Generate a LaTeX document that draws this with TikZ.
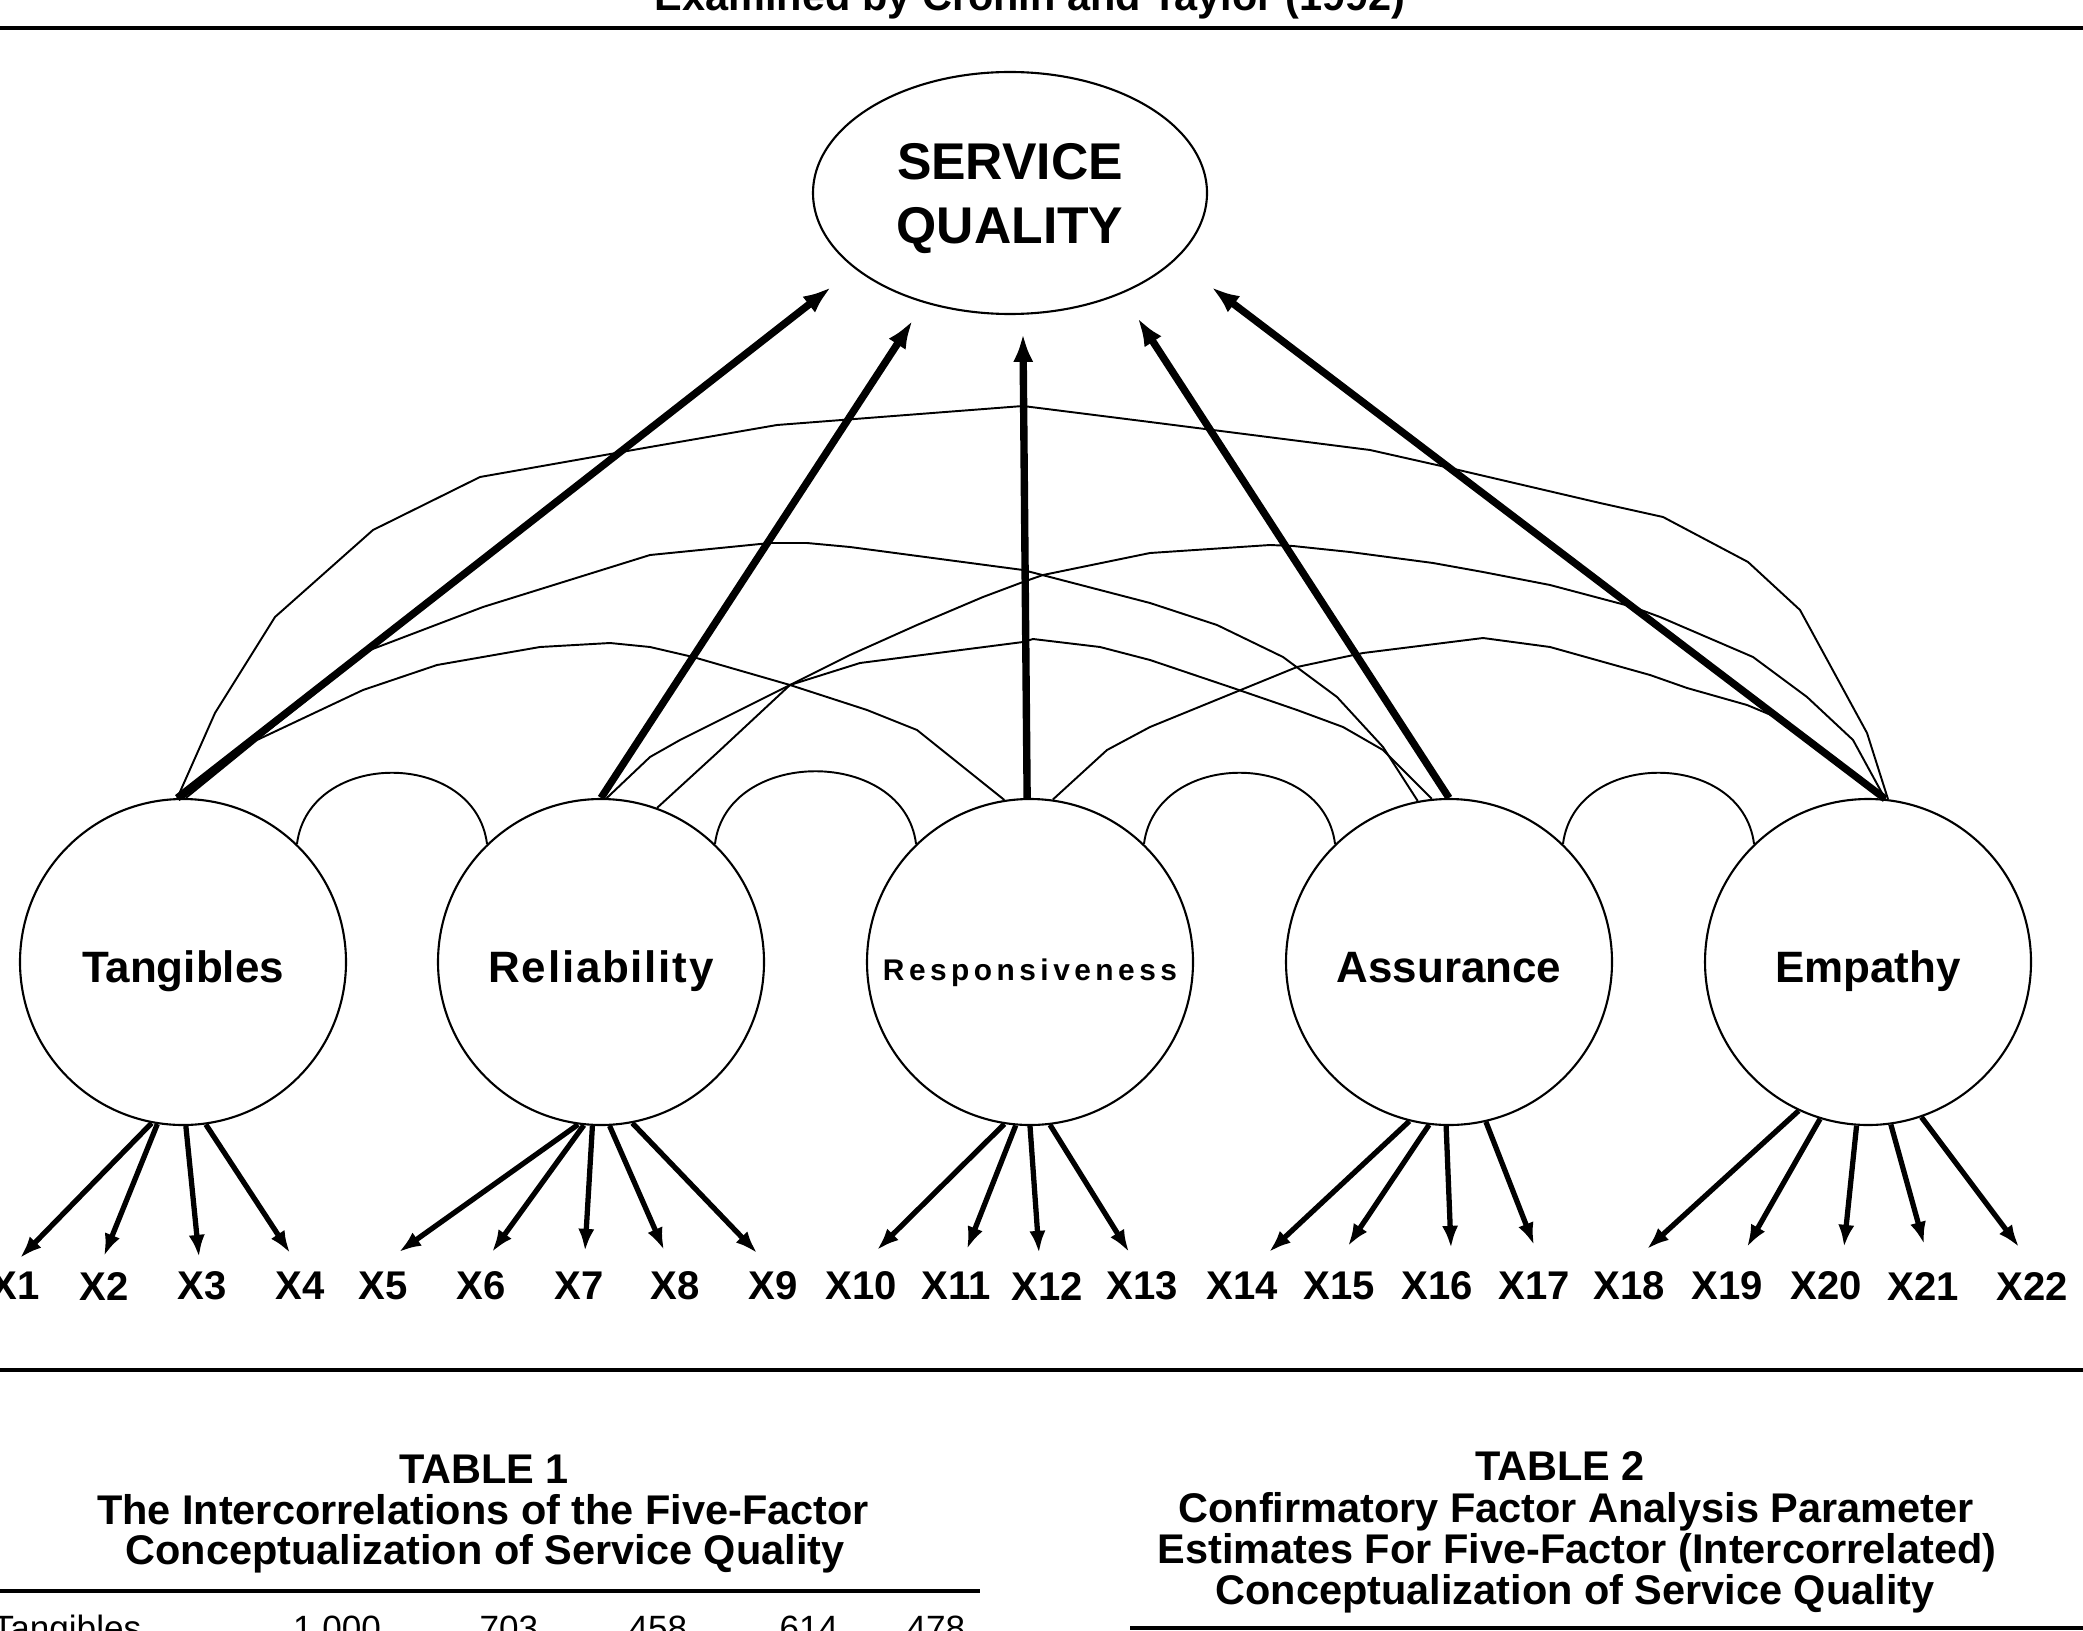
\documentclass[tikz,border=0pt]{standalone}
\usepackage{fontspec}
\setmainfont{Liberation Sans}
\usetikzlibrary{arrows.meta,shapes.geometric}
\begin{document}
\begin{tikzpicture}[x=0.1mm,y=-0.1mm,
  factor/.style={circle,draw,line width=0.6pt,minimum size=32.6mm,inner sep=0pt,text height=11.8pt,text depth=0pt,font=\bfseries\fontsize{12.5}{14}\selectfont},
  sq/.style={ellipse,draw,line width=0.6pt,minimum width=39.4mm,minimum height=24.2mm,inner sep=0pt,align=center,font=\bfseries\fontsize{14.7}{18.35}\selectfont},
  bigarrow/.style={line width=2.1pt,-{Latex[length=8pt,width=5.8pt]}},
  indarrow/.style={line width=1.5pt,-{Latex[length=6.3pt,width=4.6pt]}},
  cov/.style={line width=0.55pt,line join=round},
  xlab/.style={font=\bfseries\fontsize{11.4}{13}\selectfont,inner sep=0pt},
  ttl/.style={font=\bfseries\fontsize{11.8}{14}\selectfont,inner sep=0pt,anchor=base},
  row/.style={font=\fontsize{10}{12}\selectfont,inner sep=0pt,anchor=base},
  hrule/.style={line width=1.15pt}
]
\useasboundingbox (0,0) rectangle (2083,1630);

% title (cut at top) and rules
\node[ttl] (title) at (1030,11) {Examined by Cronin and Taylor (1992)};
\coordinate (r1a) at (0,28); \coordinate (r1b) at (2083,28);
\draw[hrule] (r1a) -- (r1b);
\coordinate (r2a) at (0,1370); \coordinate (r2b) at (2083,1370);
\draw[hrule] (r2a) -- (r2b);
\coordinate (r3a) at (0,1591); \coordinate (r3b) at (980,1591);
\draw[hrule] (r3a) -- (r3b);
\coordinate (r4a) at (1130,1628); \coordinate (r4b) at (2083,1628);
\draw[hrule] (r4a) -- (r4b);

% main nodes
\node[sq] (SQ) at (1010,193) {\rule{0pt}{0pt}\\[-5pt]SERVICE\\QUALITY};
\node[factor] (T) at (183,962) {Tangibles};
\node[factor] (Rl) at (601,962) {\addfontfeatures{LetterSpace=4}Reliability};
\node[factor,text height=10.6pt,font=\bfseries\fontsize{8.5}{10}\selectfont\addfontfeatures{LetterSpace=15}] (Rp) at (1030,962) {Responsiveness};
\node[factor] (A) at (1449,962) {Assurance};
\node[factor] (E) at (1868,962) {Empathy};

% structural arrows
\draw[bigarrow,shorten >=3.0mm] (T.92) -- (SQ.206.1);
\draw[bigarrow,shorten >=2.1mm] (Rl.90) -- (SQ.232);
\draw[bigarrow,shorten >=1.9mm] (Rp.91) -- (SQ.276);
\draw[bigarrow,shorten >=2.9mm] (A.90) -- (SQ.318.1);
\draw[bigarrow,shorten >=4.5mm] (E.84) -- (SQ.338.7);

% adjacent covariances
\draw[cov] (T.46) .. controls +(12,-95) and +(-12,-95) .. (Rl.134);
\draw[cov] (Rl.46) .. controls +(12,-97) and +(-12,-97) .. (Rp.134);
\draw[cov] (Rp.46) .. controls +(12,-95) and +(-12,-95) .. (A.134);
\draw[cov] (A.46) .. controls +(12,-95) and +(-12,-95) .. (E.134);

% long covariances
\draw[cov] (T.92) -- (215,713) -- (275,617) -- (373,530) -- (480,477) -- (650,447) -- (777,425) -- (1023,406) -- (1150,422) -- (1370,450) -- (1450,468) -- (1600,503) -- (1663,517) -- (1748,562) -- (1800,610) -- (1867,733) -- (E.83);
\draw[cov] (T.90) -- (260,737) -- (370,650) -- (483,607) -- (650,555) -- (770,543) -- (807,543) -- (850,547) -- (1023,570) -- (1150,603) -- (1217,625) -- (1283,657) -- (1337,697) -- (1383,747) -- (A.101);
\draw[cov] (T.89) -- (257,740) -- (363,690) -- (437,665) -- (540,647) -- (610,643) -- (650,647) -- (693,657) -- (790,685) -- (867,710) -- (917,730) -- (Rp.99);
\draw[cov] (Rl.88) -- (650,757) -- (680,740) -- (790,685) -- (850,655) -- (917,625) -- (983,597) -- (1023,582) -- (1043,575) -- (1150,553) -- (1270,545) -- (1293,546) -- (1350,552) -- (1433,563) -- (1483,572) -- (1550,585) -- (1633,607) -- (1660,617) -- (1753,657) -- (1807,697) -- (1853,740) -- (E.84);
\draw[cov] (Rl.70) -- (717,753) -- (790,685) -- (860,663) -- (1023,642) -- (1033,639) -- (1100,647) -- (1150,660) -- (1233,688) -- (1297,710) -- (1343,727) -- (1383,750) -- (A.96);
\draw[cov] (Rp.82) -- (1107,750) -- (1150,727) -- (1297,667) -- (1363,653) -- (1483,638) -- (1550,647) -- (1650,675) -- (1687,688) -- (1747,705) -- (1783,720) -- (E.84);

% indicator labels
\foreach \n/\x in {1/15,2/104,3/202,4/300,5/383,6/481,7/579,8/675,9/773,10/861,11/956,12/1047,13/1142,14/1242,15/1339,16/1437,17/1534,18/1629,19/1727,20/1826,21/1923,22/2032}
  \node[xlab] (x\n) at (\x,1286) {X\n};

% indicator arrow tips
\coordinate (t1) at (20,1258);  \coordinate (t2) at (104,1256); \coordinate (t3) at (199,1257); \coordinate (t4) at (290,1253);
\coordinate (t5) at (399,1252); \coordinate (t6) at (492,1252); \coordinate (t7) at (585,1251); \coordinate (t8) at (664,1250); \coordinate (t9) at (757,1253);
\coordinate (t10) at (877,1250); \coordinate (t11) at (967,1249); \coordinate (t12) at (1039,1253); \coordinate (t13) at (1129,1252);
\coordinate (t14) at (1269,1252); \coordinate (t15) at (1348,1246); \coordinate (t16) at (1451,1248); \coordinate (t17) at (1534,1245);
\coordinate (t18) at (1647,1249); \coordinate (t19) at (1747,1247); \coordinate (t20) at (1844,1247); \coordinate (t21) at (1924,1244); \coordinate (t22) at (2019,1247);

\draw[indarrow] (T.-101) -- (t1);
\draw[indarrow] (T.-99) -- (t2);
\draw[indarrow] (T.-89) -- (t3);
\draw[indarrow] (T.-82) -- (t4);
\draw[indarrow] (Rl.-98) -- (t5);
\draw[indarrow] (Rl.-96) -- (t6);
\draw[indarrow] (Rl.-93.5) -- (t7);
\draw[indarrow] (Rl.-87.5) -- (t8);
\draw[indarrow] (Rl.-79) -- (t9);
\draw[indarrow] (Rp.-99.6) -- (t10);
\draw[indarrow] (Rp.-95) -- (t11);
\draw[indarrow] (Rp.-90) -- (t12);
\draw[indarrow] (Rp.-83.4) -- (t13);
\draw[indarrow] (A.-104.5) -- (t14);
\draw[indarrow] (A.-97.4) -- (t15);
\draw[indarrow] (A.-91.4) -- (t16);
\draw[indarrow] (A.-77.3) -- (t17);
\draw[indarrow] (E.-115.5) -- (t18);
\draw[indarrow] (E.-107) -- (t19);
\draw[indarrow] (E.-94) -- (t20);
\draw[indarrow] (E.-82) -- (t21);
\draw[indarrow] (E.-71) -- (t22);

% table 1 heading
\node[ttl] (tab1) at (484,1483) {TABLE 1};
\node[ttl] (tab1a) at (483,1524) {The Intercorrelations of the Five-Factor};
\node[ttl] (tab1b) at (485,1564) {Conceptualization of Service Quality};
\node[row,anchor=base west] (rowlab) at (-8,1640) {Tangibles};
\node[row] (c1) at (337,1640) {1.000};
\node[row] (c2) at (504,1640) {.703};
\node[row] (c3) at (653,1640) {.458};
\node[row] (c4) at (804,1640) {.614};
\node[row] (c5) at (931,1640) {.478};

% table 2 heading
\node[ttl] (tab2) at (1560,1480) {TABLE 2};
\node[ttl] (tab2a) at (1576,1522) {Confirmatory Factor Analysis Parameter};
\node[ttl] (tab2b) at (1577,1563) {Estimates For Five-Factor (Intercorrelated)};
\node[ttl] (tab2c) at (1575,1604) {Conceptualization of Service Quality};
\end{tikzpicture}
\end{document}
